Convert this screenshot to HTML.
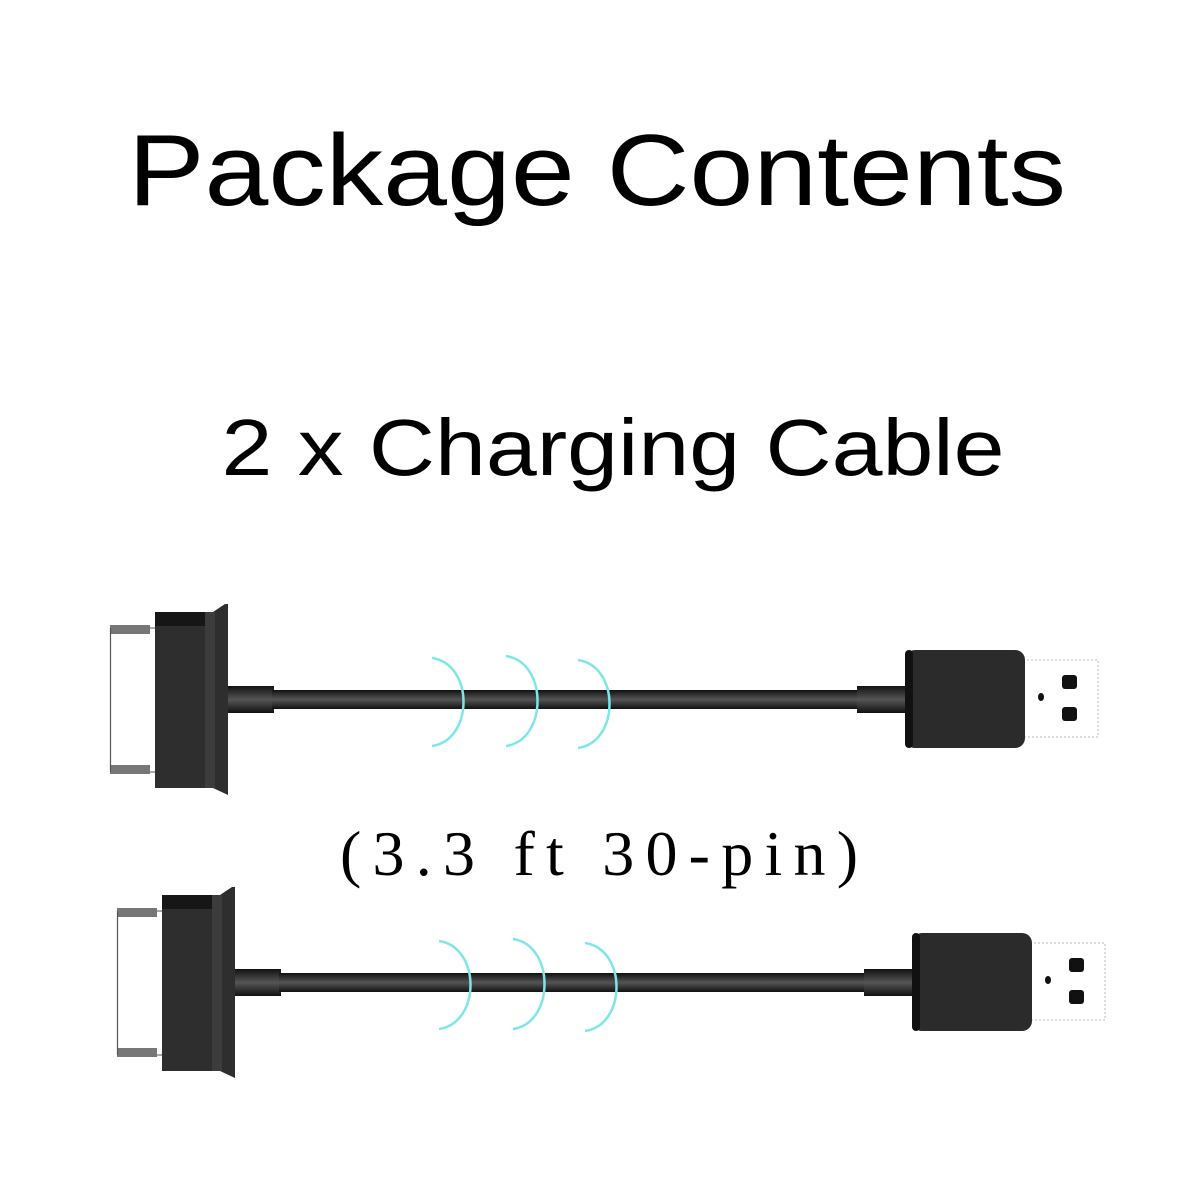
<!DOCTYPE html>
<html><head><meta charset="utf-8"><style>html,body{margin:0;padding:0;background:#fff}svg{display:block}</style></head>
<body>
<svg width="1200" height="1200" viewBox="0 0 1200 1200" xmlns="http://www.w3.org/2000/svg">
<defs>
<linearGradient id="cab" x1="0" y1="0" x2="0" y2="1">
<stop offset="0" stop-color="#111"/><stop offset="0.5" stop-color="#555"/><stop offset="1" stop-color="#111"/>
</linearGradient>
<g id="cable">
  <rect x="110" y="625" width="40" height="9" fill="#777"/>
  <rect x="110" y="765" width="40" height="9" fill="#777"/>
  <line x1="110.5" y1="628" x2="110.5" y2="772" stroke="#555" stroke-width="1.2"/>
  <line x1="150" y1="628" x2="157" y2="628" stroke="#555"/>
  <line x1="150" y1="772" x2="157" y2="772" stroke="#555"/>
  <path d="M155 612 L213 612 L225 604 L228 604 L228 795 L213 788 L155 788 Z" fill="#2e2e2e"/>
  <rect x="155" y="612" width="58" height="14" fill="#161616"/>
  <rect x="205" y="612" width="10" height="176" fill="#3c3c3c"/>
  <rect x="228" y="686" width="46" height="27" fill="url(#cab)"/>
  <rect x="272" y="690" width="587" height="19" fill="url(#cab)"/>
  <rect x="857" y="686" width="50" height="27" fill="url(#cab)"/>
  <rect x="1023" y="660" width="75" height="77" fill="#fff" stroke="#bbb" stroke-width="1" stroke-dasharray="2 2"/>
  <rect x="1062" y="675" width="15" height="14" rx="3" fill="#111"/>
  <rect x="1062" y="707" width="15" height="14" rx="3" fill="#111"/>
  <ellipse cx="1041" cy="697" rx="3" ry="4" fill="#111"/>
  <rect x="905" y="650" width="120" height="98" rx="10" fill="#2b2b2b"/>
  <rect x="905" y="650" width="8" height="98" rx="4" fill="#111"/>
  <g fill="none" stroke="#7ee6ea" stroke-width="2.5">
    <path d="M432 658 C474 664 474 740 432 746"/>
    <path d="M506 656 C548 662 548 740 506 746"/>
    <path d="M578 660 C620 666 620 742 578 748"/>
  </g>
</g>
</defs>
<text x="597" y="205" text-anchor="middle" font-family="Liberation Sans, sans-serif" font-size="101" textLength="938" lengthAdjust="spacingAndGlyphs" fill="#000">Package Contents</text>
<text x="613" y="475" text-anchor="middle" font-family="Liberation Sans, sans-serif" font-size="80" textLength="783" lengthAdjust="spacingAndGlyphs" fill="#000">2 x Charging Cable</text>
<use href="#cable"/>
<text x="340" y="875" font-family="Liberation Serif, serif" font-size="64" textLength="518" lengthAdjust="spacing" fill="#000">(3.3 ft 30-pin)</text>
<use href="#cable" transform="translate(7,283)"/>
</svg>
</body></html>
